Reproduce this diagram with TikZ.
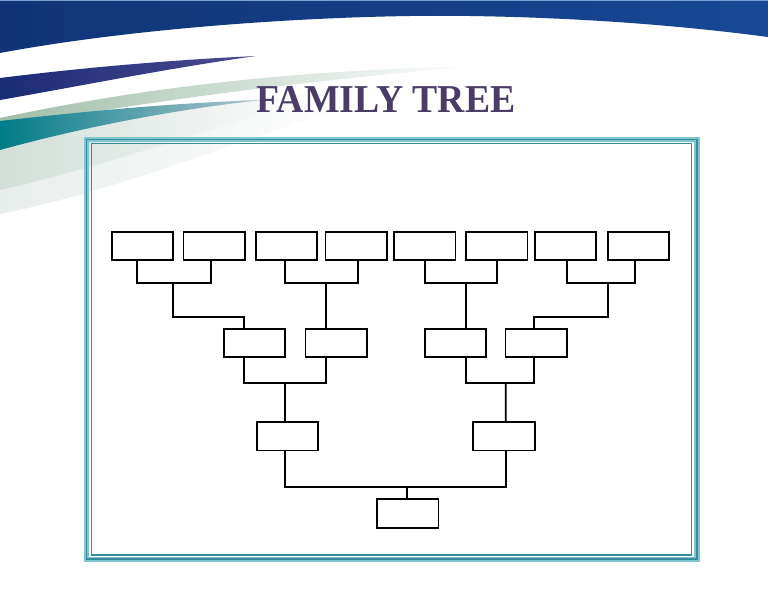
\documentclass[tikz,border=0pt]{standalone}
\usepackage{fontspec}
\usepackage{graphicx}
\setmainfont{Liberation Serif}
\definecolor{bandL}{RGB}{16,52,118}
\definecolor{bandR}{RGB}{24,72,150}
\definecolor{topline}{RGB}{120,160,210}
\definecolor{navyL}{RGB}{26,44,118}
\definecolor{navyR}{RGB}{78,74,142}
\definecolor{glowL}{RGB}{210,222,216}
\definecolor{glowP}{RGB}{232,238,235}
\definecolor{sageL}{RGB}{160,190,170}
\definecolor{tealL}{RGB}{0,124,136}
\definecolor{tealR}{RGB}{178,196,206}
\definecolor{titlecol}{RGB}{74,60,102}
\definecolor{framelight}{RGB}{128,198,208}
\definecolor{framedark}{RGB}{52,140,158}
\begin{document}
\begin{tikzpicture}[x=1pt,y=-1pt,
  box/.style={draw=black, line width=1.8pt, minimum width=61.5pt, minimum height=28.5pt, inner sep=0pt, fill=white},
  link/.style={draw=black, line width=1.8pt}]
\useasboundingbox (0,0) rectangle (768,591);
\fill[white] (0,0) rectangle (768,591);
% pale outer glow
\shade[left color=glowP, right color=white]
  (0,140) .. controls (100,122) and (240,104) .. (380,95)
  .. controls (240,140) and (120,190) .. (0,214) -- cycle;
% lower glow
\shade[left color=glowL, right color=white]
  (0,135) .. controls (100,118) and (220,100) .. (330,92)
  .. controls (220,125) and (110,165) .. (0,190) -- cycle;
% sage strip
\shade[left color=sageL, right color=white]
  (0,118) .. controls (150,86) and (300,70) .. (480,66)
  .. controls (330,78) and (150,100) .. (0,128) -- cycle;
% teal swoosh
\shade[left color=tealL, right color=tealR]
  (0,121) .. controls (80,112) and (170,103) .. (262,100)
  .. controls (170,110) and (80,128) .. (0,150) -- cycle;
% navy swoosh
\shade[left color=navyL, right color=navyR]
  (0,78) .. controls (80,68) and (170,60) .. (256,56)
  .. controls (170,68) and (80,86) .. (0,100) -- cycle;
% top band
\shade[left color=bandL, right color=bandR]
  (0,0) -- (768,0) -- (768,37) .. controls (700,28) and (600,18) .. (470,16)
  .. controls (350,14) and (150,25) .. (0,53) -- cycle;
\fill[topline] (0,0) rectangle (768,1.5);
% title
\node[anchor=base, inner sep=0pt, text=titlecol] (title) at (386,112.7)
  {\fontsize{39.5}{40}\selectfont\bfseries\scalebox{0.955}[1]{FAMILY TREE}};
% frame
\draw[framelight, line width=5.3pt] (86.65,139.5) rectangle (697.1,559.2);
\draw[framedark, line width=1.5pt] (86.6,139.6) rectangle (697.1,559.1);
\draw[framedark, line width=1.1pt] (91.2,143.3) rectangle (691.7,555);
% generation 4
\node[box] (b1) at (142.35,245.85) {};
\node[box] (b2) at (214.15,245.85) {};
\node[box] (b3) at (286.35,245.85) {};
\node[box] (b4) at (356.2,245.85) {};
\node[box] (b5) at (424.65,245.85) {};
\node[box] (b6) at (496.7,245.85) {};
\node[box] (b7) at (565.5,245.85) {};
\node[box] (b8) at (638.5,245.85) {};
% generation 3
\node[box] (ga) at (254.5,343) {};
\node[box] (gb) at (336.2,343) {};
\node[box] (gc) at (455.5,343) {};
\node[box] (gd) at (536.2,343) {};
% generation 2
\node[box] (pl) at (287.35,436.2) {};
\node[box] (pr) at (503.85,436.2) {};
% root
\node[box] (root) at (407.7,513.6) {};
% junctions
\coordinate (j1) at (172.7,282.7);
\coordinate (k1) at (244.3,317.3);
\coordinate (j2) at (325.7,282.7);
\coordinate (j3) at (466,282.7);
\coordinate (j4) at (607.7,282.7);
\coordinate (k4) at (534.3,317.3);
\coordinate (j5) at (285,383.3);
\coordinate (j6) at (505.7,383.3);
\coordinate (j7) at (407.3,486.7);
% connectors
\draw[link] ([xshift=-5.65pt]b1.south) |- (j1) -| ([xshift=-3.15pt]b2.south);
\draw[link] (j1) |- (k1) -- ([xshift=-10.2pt]ga.north);
\draw[link] ([xshift=-1.35pt]b3.south) |- (j2) -| ([xshift=1.5pt]b4.south);
\draw[link] (j2) -- ([xshift=-10.5pt]gb.north);
\draw[link] ([xshift=0.35pt]b5.south) |- (j3) -| ([xshift=0.6pt]b6.south);
\draw[link] (j3) -- ([xshift=10.5pt]gc.north);
\draw[link] ([xshift=1.2pt]b7.south) |- (j4) -| ([xshift=-3.5pt]b8.south);
\draw[link] (j4) |- (k4) -- ([xshift=-1.9pt]gd.north);
\draw[link] ([xshift=-10.2pt]ga.south) |- (j5) -| ([xshift=-10.5pt]gb.south);
\draw[link] (j5) -- ([xshift=-2.35pt]pl.north);
\draw[link] ([xshift=10.5pt]gc.south) |- (j6) -| ([xshift=-1.9pt]gd.south);
\draw[link] (j6) -- ([xshift=1.85pt]pr.north);
\draw[link] ([xshift=-2.35pt]pl.south) |- (j7) -| ([xshift=1.85pt]pr.south);
\draw[link] (j7) -- ([xshift=-0.4pt]root.north);
\end{tikzpicture}
\end{document}
